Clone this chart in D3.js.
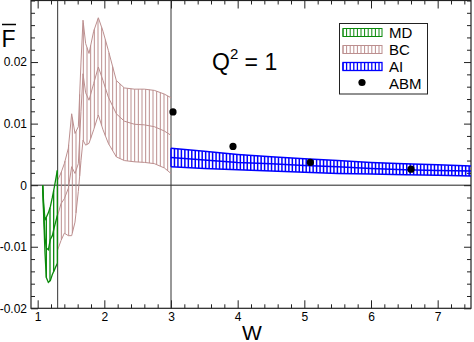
<!DOCTYPE html>
<html>
<head>
<meta charset="utf-8">
<script src="https://cdn.jsdelivr.net/npm/d3@7"></script>
<style>
  html, body { margin: 0; padding: 0; background: #fff; }
  svg { display: block; font-family: "Liberation Sans", Arial, sans-serif; }
</style>
</head>
<body>
<svg id="chart" width="474" height="342"></svg>
<script>
// ---- data -------------------------------------------------------------
// MD band (low W)
const mdW      = [1.075, 1.09, 1.11, 1.13, 1.16, 1.19, 1.22, 1.25, 1.295];
const mdUpper  = [0.0, -0.003, -0.0057, -0.0052, -0.0045, -0.0035, -0.002, -0.0003, 0.0024];
const mdCenter = [0.0, -0.004, -0.0085, -0.0102, -0.0105, -0.0088, -0.0082, -0.0068, -0.0049];
const mdLower  = [0.0, -0.005, -0.011, -0.015, -0.0158, -0.0155, -0.0145, -0.0138, -0.0127];

// BC band (resonance region)
const bcW      = [1.3, 1.35, 1.4, 1.46, 1.51, 1.56, 1.61, 1.65, 1.68, 1.72, 1.77, 1.84, 1.91, 1.98, 2.06, 2.18, 2.3, 2.45, 2.6, 2.75, 2.9, 3.0];
const bcUpper  = [0.0008, 0.002, 0.0035, 0.006, 0.0116, 0.0084, 0.0095, 0.02, 0.0268, 0.023, 0.0214, 0.025, 0.0272, 0.025, 0.0219, 0.017, 0.0158, 0.0156, 0.0156, 0.0154, 0.0148, 0.0142];
const bcCenter = [-0.0049, -0.003, -0.0022, -0.0005, 0.003, 0.0019, 0.0035, 0.012, 0.0181, 0.015, 0.0138, 0.0165, 0.0192, 0.017, 0.0143, 0.0116, 0.0104, 0.0099, 0.0098, 0.0095, 0.0088, 0.0081];
const bcLower  = [-0.0105, -0.009, -0.0078, -0.0082, -0.0082, -0.006, -0.001, 0.004, 0.0073, 0.0065, 0.0068, 0.009, 0.0114, 0.009, 0.0068, 0.0046, 0.004, 0.0038, 0.0037, 0.0035, 0.0028, 0.0019];

// AI band (high W)
const aiW      = [3.0, 3.5, 4.0, 4.5, 5.0, 5.5, 6.0, 6.5, 7.0, 7.5];
const aiUpper  = [0.006, 0.0055, 0.005, 0.0046, 0.0043, 0.004, 0.0037, 0.0035, 0.0033, 0.0031];
const aiCenter = [0.0045, 0.0041, 0.0037, 0.0035, 0.0032, 0.003, 0.0027, 0.0025, 0.0024, 0.0023];
const aiLower  = [0.003, 0.0027, 0.0025, 0.0023, 0.0021, 0.0019, 0.0018, 0.0017, 0.0016, 0.0015];

// ABM points
const abmW = [3.03, 3.93, 5.09, 6.6];
const abmF = [0.0119, 0.0063, 0.0037, 0.0026];

// axis ticks
const xTickValues = [1, 2, 3, 4, 5, 6, 7];
const xTickLabels = ["1", "2", "3", "4", "5", "6", "7"];
const yTickValues = [-0.02, -0.01, 0, 0.01, 0.02];
const yTickLabels = ["-0.02", "-0.01", "0", "0.01", "0.02"];

// legend entries
const legendNames = ["MD", "BC", "AI", "ABM"];

// ---- layout -----------------------------------------------------------
const svg = d3.select("#chart");
const x = d3.scaleLinear().domain([0.9, 7.5]).range([31, 471]);
const y = d3.scaleLinear().domain([-0.02, 0.03]).range([308.3, 0.5]);

const colMD = "#0b8a0b", colBC = "#bc8f8f", colAI = "#0000ff";

// ---- frame + ticks ----------------------------------------------------
const xMinor = d3.range(1.0, 7.5, 0.2).map(v => +v.toFixed(2)).filter(v => !xTickValues.includes(v));
const yMinor = d3.range(-0.02, 0.0301, 0.002).map(v => +v.toFixed(3)).filter(v => !yTickValues.some(t => Math.abs(t - v) < 1e-9));

function axisGroup(axis, tx, ty) {
  const g = svg.append("g").attr("transform", `translate(${tx},${ty})`).call(axis);
  g.select(".domain").remove();
  g.selectAll(".tick line").attr("stroke", "#222").attr("stroke-width", 1);
  g.selectAll("text").attr("font-size", 12).attr("fill", "#000")
    .attr("font-family", "Liberation Sans, Arial, sans-serif");
  return g;
}
const xRight = x.range()[1], yTop = y.range()[1], yBottom = y.range()[0], xLeft = x.range()[0];

// bottom
axisGroup(d3.axisBottom(x).tickValues(xTickValues).tickSize(-8).tickSizeOuter(0).tickPadding(4)
  .tickFormat((d, i) => xTickLabels[i]), 0, yBottom);
axisGroup(d3.axisBottom(x).tickValues(xMinor).tickSize(-4).tickSizeOuter(0).tickFormat(""), 0, yBottom);
// top
axisGroup(d3.axisTop(x).tickValues(xTickValues).tickSize(-8).tickSizeOuter(0).tickFormat(""), 0, yTop);
axisGroup(d3.axisTop(x).tickValues(xMinor).tickSize(-4).tickSizeOuter(0).tickFormat(""), 0, yTop);
// left
axisGroup(d3.axisLeft(y).tickValues(yTickValues).tickSize(-7).tickSizeOuter(0).tickPadding(4)
  .tickFormat((d, i) => yTickLabels[i]), xLeft, 0);
axisGroup(d3.axisLeft(y).tickValues(yMinor).tickSize(-4).tickSizeOuter(0).tickFormat(""), xLeft, 0);
// right
axisGroup(d3.axisRight(y).tickValues(yTickValues).tickSize(-7).tickSizeOuter(0).tickFormat(""), xRight, 0);
axisGroup(d3.axisRight(y).tickValues(yMinor).tickSize(-4).tickSizeOuter(0).tickFormat(""), xRight, 0);

svg.append("rect")
  .attr("x", xLeft).attr("y", yTop)
  .attr("width", xRight - xLeft).attr("height", yBottom - yTop)
  .attr("fill", "none").attr("stroke", "#222").attr("stroke-width", 1.2);

// reference lines: zero line and region boundaries
svg.append("line").attr("x1", xLeft).attr("x2", xRight)
  .attr("y1", y(0)).attr("y2", y(0)).attr("stroke", "#222").attr("stroke-width", 1);
[1.3, 3].forEach(w => {
  svg.append("line").attr("x1", x(w)).attr("x2", x(w))
    .attr("y1", yTop).attr("y2", yBottom).attr("stroke", "#333").attr("stroke-width", 1);
});

// ---- bands --------------------------------------------------------------
function interp(xs, ys, v) {
  const i = Math.max(1, Math.min(xs.length - 1, d3.bisectRight(xs, v)));
  const t = (v - xs[i - 1]) / (xs[i] - xs[i - 1]);
  return ys[i - 1] + t * (ys[i] - ys[i - 1]);
}

function drawBand(ws, lo, mid, hi, color, width, step) {
  const g = svg.append("g").attr("stroke", color).attr("fill", "none").attr("stroke-width", width);
  const line = d3.line().x(d => x(d[0])).y(d => y(d[1]));
  [lo, mid, hi].forEach(arr => {
    g.append("path").attr("d", line(ws.map((w, i) => [w, arr[i]])));
  });
  const hatch = d3.range(ws[0], ws[ws.length - 1] + 1e-6, step);
  g.selectAll("line.h").data(hatch).join("line")
    .attr("x1", w => x(w)).attr("x2", w => x(w))
    .attr("y1", w => y(interp(ws, lo, w)))
    .attr("y2", w => y(interp(ws, hi, w)));
}

drawBand(bcW, bcLower, bcCenter, bcUpper, colBC, 1, 0.055);
drawBand(mdW, mdLower, mdCenter, mdUpper, colMD, 1.3, 0.055);
drawBand(aiW, aiLower, aiCenter, aiUpper, colAI, 1.5, 0.052);

// ABM points
svg.append("g").selectAll("circle").data(abmW).join("circle")
  .attr("cx", (d) => x(d)).attr("cy", (d, i) => y(abmF[i])).attr("r", 3.6).attr("fill", "#000");

// ---- annotations ---------------------------------------------------------
const q = svg.append("text").attr("x", 212).attr("y", 70).attr("font-size", 23).attr("fill", "#000");
q.append("tspan").text("Q");
q.append("tspan").attr("dy", -11).attr("font-size", 15).text("2");
q.append("tspan").attr("dy", 11).text(" = 1");

svg.append("text").attr("x", 1.5).attr("y", 47).attr("font-size", 23).attr("fill", "#000").text("F");
svg.append("line").attr("x1", 2).attr("x2", 16).attr("y1", 24.5).attr("y2", 24.5)
  .attr("stroke", "#000").attr("stroke-width", 1.5);

svg.append("text").attr("x", 252).attr("y", 339.5).attr("text-anchor", "middle")
  .attr("font-size", 21).attr("fill", "#000").text("W");

// ---- legend -------------------------------------------------------------
const lg = svg.append("g");
lg.append("rect").attr("x", 339.5).attr("y", 23.5).attr("width", 88).attr("height", 70.5)
  .attr("fill", "#fff").attr("stroke", "#222").attr("stroke-width", 1);
const legendColors = [colMD, colBC, colAI, "#000"];
legendNames.forEach((name, i) => {
  const cy = 32.5 + i * 17;
  if (i < 3) {
    const sg = lg.append("g").attr("stroke", legendColors[i]).attr("stroke-width", i === 2 ? 1.3 : 1);
    sg.append("rect").attr("x", 343).attr("y", cy - 4).attr("width", 39).attr("height", 8).attr("fill", "none");
    d3.range(343, 382.1, 3.6).forEach(px => {
      sg.append("line").attr("x1", px).attr("x2", px).attr("y1", cy - 4).attr("y2", cy + 4);
    });
  } else {
    lg.append("circle").attr("cx", 362).attr("cy", cy - 1).attr("r", 3.6).attr("fill", "#000");
  }
  lg.append("text").attr("x", 389).attr("y", cy + 5.5).attr("font-size", 15).attr("fill", "#000").text(name);
});
</script>
</body>
</html>
